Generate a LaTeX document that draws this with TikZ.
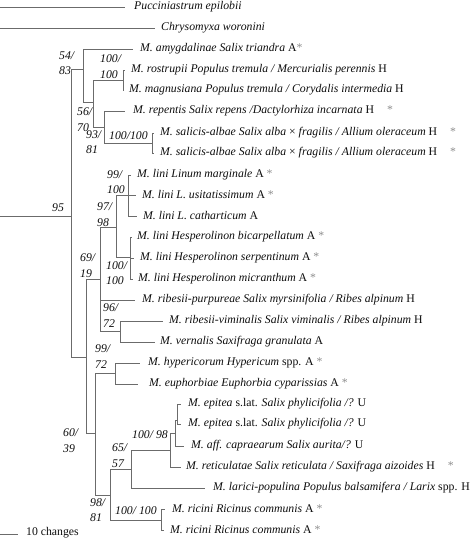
\documentclass[tikz,border=0pt]{standalone}
\usepackage{fontspec}
\setmainfont{Liberation Serif}
\definecolor{brgray}{gray}{0.42}
\definecolor{txt}{gray}{0.05}
\definecolor{astc}{gray}{0.55}
\newcommand{\astk}{\textcolor{astc}{\textup{*}}}
\begin{document}
\begin{tikzpicture}[x=1bp,y=-1bp,
  br/.style={draw=brgray, line width=0.8bp},
  lf/.style={anchor=west, inner sep=0pt, font=\fontsize{11.8}{14}\selectfont\itshape, text=txt},
  bs/.style={anchor=west, inner sep=0pt, align=left, font=\fontsize{11.8}{15.5}\selectfont\itshape, text=txt},
  sc/.style={anchor=west, inner sep=0pt, font=\fontsize{11.8}{14}\selectfont, text=txt}]
\useasboundingbox (0,0) rectangle (474,539);

% ---------- internal nodes ----------
\coordinate (base) at (0,216);
\coordinate (R) at (71,216);
\coordinate (a) at (83,69);
\coordinate (b) at (93,102);
\coordinate (c) at (123,80);
\coordinate (d) at (104,127);
\coordinate (e) at (152,143);
\coordinate (f) at (86,357);
\coordinate (g) at (100,279);
\coordinate (h) at (116,227);
\coordinate (i) at (128,195);
\coordinate (j) at (130,257);
\coordinate (k) at (120,331);
\coordinate (l) at (95,433);
\coordinate (m) at (115,373);
\coordinate (n) at (110,495);
\coordinate (p) at (131,469);
\coordinate (q) at (170,450);
\coordinate (r) at (175,433);
\coordinate (s) at (177,420);
\coordinate (u) at (161,520);

% ---------- leaf tips ----------
\coordinate (o0) at (0,7);   \coordinate (t0) at (125,7);
\coordinate (o1) at (0,28);  \coordinate (t1) at (155,28);
\coordinate (t2) at (133,49);
\coordinate (t3) at (125,70);
\coordinate (t4) at (124,90);
\coordinate (t5) at (125,111);
\coordinate (t6) at (154,133);
\coordinate (t7) at (154,153);
\coordinate (t8) at (131,175);
\coordinate (t9) at (136,195);
\coordinate (t10) at (137,216);
\coordinate (t11) at (132,237);
\coordinate (t12) at (134,258);
\coordinate (t13) at (133,279);
\coordinate (t14) at (135,300);
\coordinate (t15) at (163,321);
\coordinate (t16) at (155,342);
\coordinate (t17) at (140,363);
\coordinate (t18) at (138,384);
\coordinate (t19) at (181,404);
\coordinate (t20) at (181,424);
\coordinate (t21) at (184,446);
\coordinate (t22) at (181,467);
\coordinate (t23) at (205,488);
\coordinate (t24) at (165,509);
\coordinate (t25) at (164,530);

% ---------- branches ----------
\draw[br] (o0) -- (t0);
\draw[br] (o1) -- (t1);
\draw[br] (base) -- (R);
\draw[br] (R) |- (a);
\draw[br] (R) |- (f);
\draw[br] (a) |- (t2);
\draw[br] (a) |- (b);
\draw[br] (b) |- (c);
\draw[br] (b) |- (d);
\draw[br] (c) |- (t3);
\draw[br] (c) |- (t4);
\draw[br] (d) |- (t5);
\draw[br] (d) |- (e);
\draw[br] (e) |- (t6);
\draw[br] (e) |- (t7);
\draw[br] (f) |- (g);
\draw[br] (f) |- (l);
\draw[br] (g) |- (h);
\draw[br] (g) |- (t14);
\draw[br] (g) |- (k);
\draw[br] (h) |- (i);
\draw[br] (h) |- (j);
\draw[br] (i) |- (t8);
\draw[br] (i) |- (t9);
\draw[br] (i) |- (t10);
\draw[br] (j) |- (t11);
\draw[br] (j) |- (t12);
\draw[br] (j) |- (t13);
\draw[br] (k) |- (t15);
\draw[br] (k) |- (t16);
\draw[br] (l) |- (m);
\draw[br] (l) |- (n);
\draw[br] (m) |- (t17);
\draw[br] (m) |- (t18);
\draw[br] (n) |- (p);
\draw[br] (n) |- (u);
\draw[br] (p) |- (q);
\draw[br] (p) |- (t23);
\draw[br] (q) |- (r);
\draw[br] (q) |- (t22);
\draw[br] (r) |- (s);
\draw[br] (r) |- (t21);
\draw[br] (s) |- (t19);
\draw[br] (s) |- (t20);
\draw[br] (u) |- (t24);
\draw[br] (u) |- (t25);

% ---------- leaf labels ----------
\node[lf] (L0) at (134,7) {Pucciniastrum epilobii};
\node[lf] (L1) at (161,28) {Chrysomyxa woronini};
\node[lf] (L2) at (140,49) {M. amygdalinae Salix triandra \textup{A}\astk};
\node[lf] (L3) at (131,70) {M. rostrupii Populus tremula / Mercurialis perennis \textup{H}};
\node[lf] (L4) at (129,90) {M. magnusiana Populus tremula / Corydalis intermedia \textup{H}};
\node[lf] (L5) at (133,111) {M. repentis Salix repens /Dactylorhiza incarnata \textup{H}\hspace{13bp}\astk};
\node[lf] (L6) at (160,133) {M. salicis-albae Salix alba \textup{×} fragilis / Allium oleraceum \textup{H}\hspace{13bp}\astk};
\node[lf] (L7) at (160,153) {M. salicis-albae Salix alba \textup{×} fragilis / Allium oleraceum \textup{H}\hspace{13bp}\astk};
\node[lf] (L8) at (137,175) {M. lini Linum marginale \textup{A} \astk};
\node[lf] (L9) at (142,195) {M. lini L. usitatissimum \textup{A} \astk};
\node[lf] (L10) at (143,216) {M. lini L. catharticum \textup{A}};
\node[lf] (L11) at (137,237) {M. lini Hesperolinon bicarpellatum \textup{A} \astk};
\node[lf] (L12) at (140,258) {M. lini Hesperolinon serpentinum \textup{A} \astk};
\node[lf] (L13) at (138,279) {M. lini Hesperolinon micranthum \textup{A} \astk};
\node[lf] (L14) at (142,300) {M. ribesii-purpureae Salix myrsinifolia / Ribes alpinum \textup{H}};
\node[lf] (L15) at (169,321) {M. ribesii-viminalis Salix viminalis / Ribes alpinum \textup{H}};
\node[lf] (L16) at (160,342) {M. vernalis Saxifraga granulata \textup{A}};
\node[lf] (L17) at (148,363) {M. hypericorum Hypericum \textup{spp. A} \astk};
\node[lf] (L18) at (149,384) {M. euphorbiae Euphorbia cyparissias \textup{A} \astk};
\node[lf] (L19) at (188,404) {M. epitea \textup{s.lat.} Salix phylicifolia /? \textup{U}};
\node[lf] (L20) at (188,424) {M. epitea \textup{s.lat.} Salix phylicifolia /? \textup{U}};
\node[lf] (L21) at (191,446) {M. aff. capraearum Salix aurita/? \textup{U}};
\node[lf] (L22) at (186,467) {M. reticulatae Salix reticulata / Saxifraga aizoides \textup{H}\hspace{13bp}\astk};
\node[lf] (L23) at (213,488) {M. larici-populina Populus balsamifera / Larix \textup{spp. H}};
\node[lf] (L24) at (172,509) {M. ricini Ricinus communis \textup{A} \astk};
\node[lf] (L25) at (170,530) {M. ricini Ricinus communis \textup{A} \astk};

% ---------- support values ----------
\node[bs] (s1) at (59,63) {54/\\83};
\node[bs] (s2) at (100,66.5) {100/\\100};
\node[bs] (s3) at (77,119.5) {56/\\70};
\node[bs] (s4) at (86,142) {93/\\81};
\node[bs] (s5) at (109,136) {100/100};
\node[bs] (s6) at (52,208) {95};
\node[bs] (s7) at (107,182) {99/\\100};
\node[bs] (s8) at (97,214.5) {97/\\98};
\node[bs] (s9) at (80,265.5) {69/\\19};
\node[bs] (s10) at (106,273) {100/\\100};
\node[bs] (s11) at (103,315.5) {96/\\72};
\node[bs] (s12) at (95,356.5) {99/\\72};
\node[bs] (s13) at (63,440.5) {60/\\39};
\node[bs] (s14) at (112,455.5) {65/\\57};
\node[bs] (s15) at (132,435) {100/ 98};
\node[bs] (s16) at (90,510) {98/\\81};
\node[bs] (s17) at (115,511) {100/ 100};

% ---------- scale bar ----------
\coordinate (sb1) at (0,534);
\coordinate (sb2) at (18,534);
\draw[br] (sb1) -- (sb2);
\node[sc] (scl) at (26,533) {10 changes};
\end{tikzpicture}
\end{document}
